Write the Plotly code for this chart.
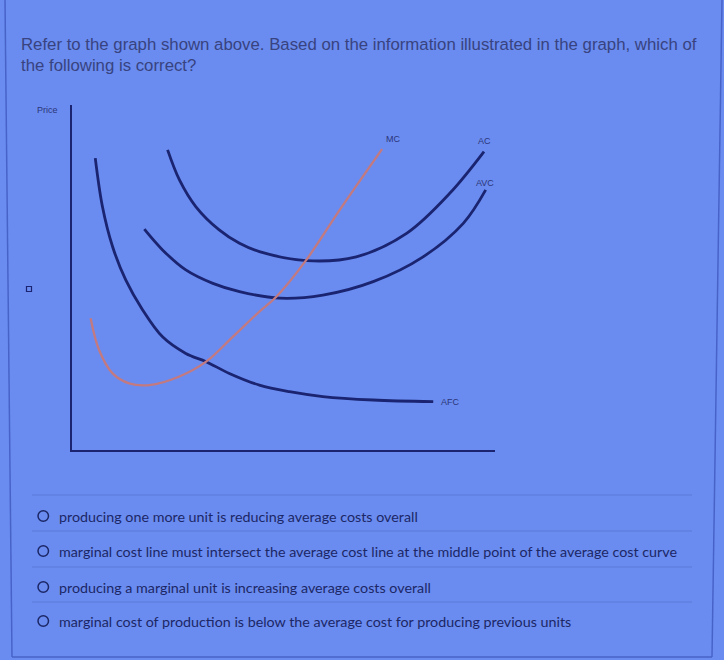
import plotly.graph_objects as go

# cost curves, quantity / price in chart units (0-100 on both axes)
afc_q = [5.5, 7.2, 9.6, 12.7, 16.7, 21.4, 26.9, 31.7, 37.2, 44.3, 51.4, 59.3, 71.2, 85.4]
afc_p = [84.6, 70.5, 58.9, 49.3, 40.6, 32.8, 28.0, 25.6, 22.2, 18.8, 16.9, 15.5, 14.5, 14.0]

mc_q = [4.4, 6.4, 9.6, 13.5, 18.3, 25.4, 31.7, 38.0, 44.3, 48.3, 55.4, 63.3, 73.3]
mc_p = [38.2, 29.0, 22.2, 19.3, 18.8, 21.3, 25.6, 32.8, 40.1, 44.4, 55.1, 69.6, 87.2]

ac_q = [22.6, 25.4, 29.3, 34.8, 39.6, 44.3, 55.4, 67.2, 79.1, 89.3, 97.4]
ac_p = [87.0, 78.3, 70.5, 63.8, 59.9, 57.5, 54.9, 56.0, 62.8, 74.4, 86.5]

avc_q = [17.1, 21.4, 26.9, 33.3, 39.6, 49.1, 59.3, 71.2, 83.0, 92.5, 97.8]
avc_p = [64.0, 58.0, 52.2, 48.3, 45.9, 44.0, 44.9, 48.8, 56.0, 65.7, 75.4]

curve_labels = ["MC", "AC", "AVC", "AFC"]
label_q = [75.8, 97.6, 97.6, 86.8]
label_p = [90.1, 89.7, 77.5, 14.0]

question = ["Refer to the graph shown above. Based on the information illustrated in the graph, which of",
            "the following is correct?"]
options = [
    "producing one more unit is reducing average costs overall",
    "marginal cost line must intersect the average cost line at the middle point of the average cost curve",
    "producing a marginal unit is increasing average costs overall",
    "marginal cost of production is below the average cost for producing previous units",
]

W, H = 724, 660
BG = "#6a8cf0"
NAVY = "#1a2470"
TXT = "#1c2766"
LBL = "#2a3578"


def px(x):
    return x / W


def py(y):
    return 1 - y / H


fig = go.Figure()
for q, p, col, w in [(afc_q, afc_p, NAVY, 2.8), (ac_q, ac_p, NAVY, 2.8),
                     (avc_q, avc_p, NAVY, 2.8), (mc_q, mc_p, "#c27a80", 2.3)]:
    fig.add_trace(go.Scatter(x=q, y=p, mode="lines", line=dict(color=col, width=w, shape="spline", smoothing=1.0),
                             hoverinfo="skip", showlegend=False))

for name, q, p in zip(curve_labels, label_q, label_p):
    fig.add_annotation(x=q, y=p, text=name, showarrow=False, xanchor="left" if name == "AFC" else "center",
                       yanchor="middle", font=dict(family="Liberation Sans", size=9, color=LBL))

fig.add_annotation(x=94.8, y=-3.7, text="Quantity", showarrow=False, yanchor="middle",
                   font=dict(family="Liberation Sans", size=9, color=LBL))
fig.add_annotation(x=px(60), y=py(110), xref="paper", yref="paper", text="Price", showarrow=False,
                   xanchor="right", yanchor="middle", font=dict(family="Liberation Sans", size=9, color=LBL))

for t, y in zip(question, [45, 66]):
    fig.add_annotation(x=px(19), y=py(y), xref="paper", yref="paper", text=t, showarrow=False,
                       xanchor="left", yanchor="middle",
                       font=dict(family="Liberation Sans", size=16.8, color="#38437f"))

shapes = []
opt_y = [516, 551, 587, 621]
for t, y in zip(options, opt_y):
    fig.add_annotation(x=px(57), y=py(y), xref="paper", yref="paper", text=t, showarrow=False,
                       xanchor="left", yanchor="middle", font=dict(family="Lato", size=14.3, color=TXT))
    shapes.append(dict(type="circle", xref="paper", yref="paper",
                       x0=px(38), x1=px(48.5), y0=py(y - 5.3), y1=py(y + 5.3),
                       line=dict(color=TXT, width=1.5)))

for y in [495, 531, 567, 602]:
    shapes.append(dict(type="line", xref="paper", yref="paper", x0=px(32), x1=px(692), y0=py(y), y1=py(y),
                       line=dict(color="#5a78d8", width=1)))

# screen frame
frame = "#4863c8"
shapes.append(dict(type="line", xref="paper", yref="paper", x0=px(5), x1=px(12), y0=py(0), y1=py(657),
                   line=dict(color=frame, width=1.5)))
shapes.append(dict(type="line", xref="paper", yref="paper", x0=px(12), x1=px(712), y0=py(657), y1=py(657),
                   line=dict(color=frame, width=1.5)))
shapes.append(dict(type="line", xref="paper", yref="paper", x0=px(722), x1=px(712), y0=py(0), y1=py(657),
                   line=dict(color=frame, width=1.5)))
shapes.append(dict(type="rect", xref="paper", yref="paper", x0=px(26.5), x1=px(31.5), y0=py(286.5), y1=py(291.5),
                   line=dict(color=NAVY, width=1.2)))

fig.update_layout(
    width=W, height=H, margin=dict(l=0, r=0, t=0, b=0),
    paper_bgcolor=BG, plot_bgcolor=BG, shapes=shapes,
    xaxis=dict(domain=[px(72), px(495)], range=[0, 100], showgrid=False, zeroline=False,
               showticklabels=False, ticks="", showline=True, linecolor=NAVY, linewidth=2.2),
    yaxis=dict(domain=[py(450), py(105)], range=[0, 100], showgrid=False, zeroline=False,
               showticklabels=False, ticks="", showline=True, linecolor=NAVY, linewidth=2.2),
)

fig.write_html("out.html", config={"displayModeBar": False},
               post_script="document.body.style.margin='0';")
